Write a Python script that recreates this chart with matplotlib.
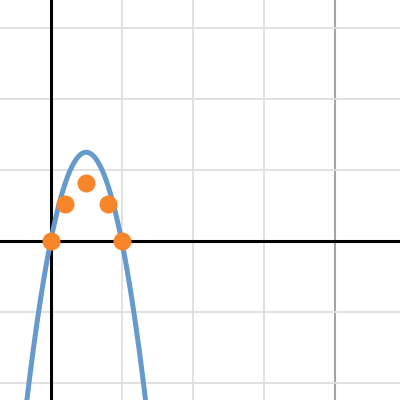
import numpy as np
import matplotlib
matplotlib.use("Agg")
import matplotlib.pyplot as plt

# data points
pts_x = [0.0, 0.2, 0.5, 0.8, 1.0]
pts_y = [0.0, 0.52, 0.81, 0.52, 0.0]
# parabola coefficients y = a x^2 + b x + c
coef = [-5.0, 5.0, 0.0]

unit = 71.0
x0px, y0px = 50.7, 241.0
xlim = (-x0px / unit, (400 - x0px) / unit)
ylim = (-(400 - y0px) / unit, y0px / unit)

fig = plt.figure(figsize=(4, 4), dpi=100)
ax = fig.add_axes([0, 0, 1, 1])
ax.set_xlim(*xlim)
ax.set_ylim(*ylim)
ax.axis("off")

for gx in [1, 2, 3]:
    ax.axvline(gx, color="#dedede", lw=1.3, zorder=0)
ax.axvline(4, color="#a4a4a4", lw=1.5, zorder=0)
for gy in [-2, -1, 1, 2, 3]:
    ax.axhline(gy, color="#dedede", lw=1.3, zorder=0)

ax.axhline(0, color="black", lw=2.2, zorder=1)
ax.axvline(0, color="black", lw=2.2, zorder=1)

xs = np.linspace(xlim[0], xlim[1], 800)
ax.plot(xs, np.polyval(coef, xs), color="#6699cc", lw=3.6, zorder=2,
        solid_capstyle="round")
ax.plot(pts_x, pts_y, "o", color="#f7862a", ms=13, mew=0, zorder=3)

fig.savefig("out.png", dpi=100)
